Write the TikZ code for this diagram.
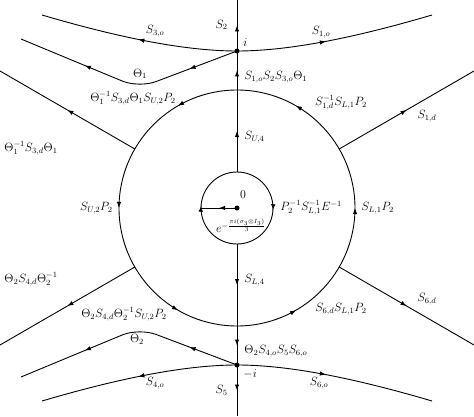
\documentclass[12pt,tikz,border=0pt]{standalone}
\usepackage{amsmath}
\usetikzlibrary{arrows.meta,decorations.markings}

\tikzset{
  tip/.tip={Latex[length=6pt,width=4.5pt]},
  midarrow/.style={postaction={decorate},
    decoration={markings,mark=at position #1 with {\arrow{tip}}}},
  midarrow/.default=0.5,
  twoarrows/.style 2 args={postaction={decorate},
    decoration={markings,mark=at position #1 with {\arrow{tip}},
      mark=at position #2 with {\arrow{tip}}}},
  pointdot/.style={circle,fill,inner sep=0pt,minimum size=5pt},
}

\begin{document}
\begin{tikzpicture}[x=1pt,y=1pt,line width=0.9pt]
\useasboundingbox (0,0) rectangle (474,416);
% centre, saddle points and ends of the axis
\coordinate (O) at (237,208);
\coordinate (i) at (237,365);
\coordinate (mi) at (237,51);
\coordinate (top) at (237,416);
\coordinate (bot) at (237,0);
% points on the two circles
\foreach \a in {30,90,150,210,270,330}
  \coordinate (B\a) at ([shift={(\a:118pt)}]O);
\foreach \a in {0,90,180,270}
  \coordinate (s\a) at ([shift={(\a:36pt)}]O);
% free ends of the rays
\coordinate (E30) at (474,345);
\coordinate (E150) at (0,345);
\coordinate (E210) at (0,71);
\coordinate (E330) at (474,71);

% big circle, counterclockwise
\draw[postaction={decorate},decoration={markings,
  mark=between positions 0 and 0.9 step 1/6 with {\arrow{tip}}}]
  (O) circle (118pt);
% small circle, clockwise
\draw[twoarrows={0.01}{0.51}] (s0) arc (0:-360:36pt);
\draw[midarrow] (O) -- (s180);

% vertical axis
\draw[midarrow] (i) -- (top);
\draw[midarrow] (B90) -- (i);
\draw[midarrow] (s90) -- (B90);
\draw[midarrow] (s270) -- (B270);
\draw[midarrow] (B270) -- (mi);
\draw[midarrow] (mi) -- (bot);

% rays
\foreach \a in {30,150,210,330}
  \draw[midarrow] (B\a) -- (E\a);

% contours through i and -i
\draw[midarrow] (i) .. controls (180,365) and (110,381) .. (42,401);
\draw[midarrow=0.45] (i) .. controls (294,365) and (364,381) .. (432,401);
\draw[midarrow] (mi) .. controls (180,51) and (110,35) .. (42,15);
\draw[midarrow=0.45] (mi) .. controls (294,51) and (364,35) .. (432,15);
\draw[rounded corners=18pt,twoarrows={0.22}{0.7}] (i) -- (139,328) -- (21,377);
\draw[rounded corners=18pt,twoarrows={0.22}{0.7}] (mi) -- (139,88) -- (21,39);

\node[pointdot] (pi) at (i) {};
\node[pointdot] (pmi) at (mi) {};
\node[pointdot] (pO) at (O) {};

% labels
\node[anchor=east] (lS2) at (232,391) {$S_2$};
\node[anchor=west] (li) at (239,373) {$i$};
\node[anchor=west] (ljump) at (240,339) {$S_{1,o}S_2S_{3,o}\Theta_1$};
\node[anchor=west] (lSU4) at (240,279) {$S_{U,4}$};
\node[inner sep=0.5pt] (l0) at (243,221) {$0$};
\node[inner sep=0.5pt] (lexp) at (241,190) {$e^{-\frac{\pi i(\sigma_3\otimes I_3)}{3}}$};
\node[anchor=west] (lsmall) at (276,208) {$P_2^{-1}S_{L,1}^{-1}E^{-1}$};
\node[anchor=west] (lSL1) at (357,208) {$S_{L,1}P_2$};
\node[anchor=east] (lSU2) at (117,208) {$S_{U,2}P_2$};
\node[anchor=west] (lray1) at (0,268) {$\Theta_1^{-1}S_{3,d}\Theta_1$};
\node[anchor=west] (lray2) at (0,137) {$\Theta_2S_{4,d}\Theta_2^{-1}$};
\node (lS1d) at (427,300) {$S_{1,d}$};
\node (lS6d) at (427,117) {$S_{6,d}$};
\node (larc1) at (341,313) {$S_{1,d}^{-1}S_{L,1}P_2$};
\node (larc6) at (341,107) {$S_{6,d}S_{L,1}P_2$};
\node (larc3) at (133,318) {$\Theta_1^{-1}S_{3,d}\Theta_1S_{U,2}P_2$};
\node (larc4) at (124,102) {$\Theta_2S_{4,d}\Theta_2^{-1}S_{U,2}P_2$};
\node (lT1) at (140,342) {$\Theta_1$};
\node (lT2) at (137,77) {$\Theta_2$};
\node (lS3o) at (155,385) {$S_{3,o}$};
\node (lS1o) at (321,384) {$S_{1,o}$};
\node (lS4o) at (155,33) {$S_{4,o}$};
\node (lS6o) at (319,33) {$S_{6,o}$};
\node[anchor=west] (ljumpm) at (240,65) {$\Theta_2S_{4,o}S_5S_{6,o}$};
\node[anchor=west] (lmi) at (239,42) {$-i$};
\node[anchor=east] (lS5) at (232,26) {$S_5$};
\node[anchor=west] (lSL4) at (240,136) {$S_{L,4}$};
\end{tikzpicture}
\end{document}
